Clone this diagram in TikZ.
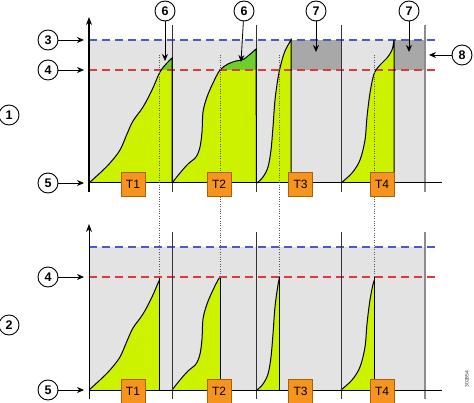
\documentclass[tikz,border=0pt]{standalone}
\usepackage{fontspec}
\setmainfont{Liberation Sans}
\usetikzlibrary{arrows.meta}
\definecolor{bggray}{HTML}{E3E3E3}
\definecolor{dkgray}{HTML}{A8A8A8}
\definecolor{ygreen}{HTML}{CCF200}
\definecolor{dgreen}{HTML}{6CCF2A}
\definecolor{bluedash}{HTML}{4A5ACC}
\definecolor{reddash}{HTML}{DD3B3B}
\definecolor{torange}{HTML}{F7941D}
\definecolor{tborder}{HTML}{A8600F}
\tikzset{
  crvA/.style={insert path={plot[smooth,tension=0.55] coordinates {(89,183) (100,173) (110,163) (120,150) (127,134) (133,121) (143,107) (152,90) (160,72) (167,63) (172,58)}}},
  crvB/.style={insert path={plot[smooth,tension=0.55] coordinates {(172,183) (180,173) (188,164) (196,157) (200,147) (202,132) (203,112) (207,97) (213,83) (220,70) (228,64) (236,61) (244,59) (256,49)}}},
  crvC/.style={insert path={plot[smooth,tension=0.55] coordinates {(257,183) (263,177) (268,167) (271,150) (273,127) (275,100) (278,78) (281,64) (285,51) (291,40)}}},
  crvD/.style={insert path={plot[smooth,tension=0.55] coordinates {(341,183) (352,173) (360,160) (365,140) (367,117) (370,93) (374,74) (380,65) (387,58) (392,50) (394,40)}}},
  circ/.style={circle,draw=black,line width=0.9pt,fill=white,minimum size=20pt,inner sep=0pt,font=\bfseries\fontsize{12.5}{12.5}\selectfont},
  tbox/.style={draw=tborder,fill=torange,line width=0.7pt,minimum width=24pt,minimum height=24pt,inner sep=0pt,font=\fontsize{12}{12}\selectfont},
  pointer/.style={-{Stealth[length=7pt,width=6pt]},line width=0.8pt},
  crvline/.style={line width=1pt,black},
  sep/.style={line width=0.8pt,black!80},
  dotline/.style={line width=0.8pt,black!65,dash pattern=on 1pt off 1.4pt},
  bdash/.style={bluedash,line width=1.1pt,dash pattern=on 8pt off 5pt},
  rdash/.style={reddash,line width=1.1pt,dash pattern=on 8pt off 5pt},
}
\begin{document}
\begin{tikzpicture}[x=1pt,y=-1pt]
\useasboundingbox (0,0) rectangle (474,403);
% ---------- panel backgrounds ----------
\foreach \s in {0,207}{
  \begin{scope}[shift={(0,\s)}]
    \fill[bggray] (89,40) rectangle (425,183);
  \end{scope}
}
\fill[dkgray] (291,40) rectangle (341,70);
\fill[dkgray] (394,40) rectangle (425,70);
% ---------- top curves ----------
\fill[ygreen, crvA] -- (172,183) -- cycle;
\fill[ygreen, crvB] -- (256,183) -- cycle;
\fill[ygreen, crvC] -- (291,183) -- cycle;
\fill[ygreen, crvD] -- (394,183) -- cycle;
\begin{scope}
  \clip (80,0) rectangle (260,70);
  \fill[dgreen, crvA] -- (172,183) -- cycle;
  \fill[dgreen, crvB] -- (256,183) -- cycle;
\end{scope}
% ---------- bottom curves ----------
\begin{scope}[shift={(0,207)}]
  \begin{scope}\clip (80,0) rectangle (159,190);
    \fill[ygreen, crvA] -- (172,183) -- cycle; \draw[crvline, crvA]; \end{scope}
  \begin{scope}\clip (165,0) rectangle (220,190);
    \fill[ygreen, crvB] -- (256,183) -- cycle; \draw[crvline, crvB]; \end{scope}
  \begin{scope}\clip (250,0) rectangle (279,190);
    \fill[ygreen, crvC] -- (291,183) -- cycle; \draw[crvline, crvC]; \end{scope}
  \begin{scope}\clip (335,0) rectangle (374,190);
    \fill[ygreen, crvD] -- (394,183) -- cycle; \draw[crvline, crvD]; \end{scope}
  \draw[crvline] (159,70) -- (159,183);
  \draw[crvline] (220,70) -- (220,183);
  \draw[crvline] (279,70) -- (279,183);
  \draw[crvline] (374,70) -- (374,183);
\end{scope}
% ---------- dashed levels, separators, axes ----------
\foreach \s/\w in {0/1.2pt,207/1pt}{
  \begin{scope}[shift={(0,\s)}]
    \draw[bdash] (89,40) -- (439,40);
    \draw[rdash] (89,70) -- (439,70);
    \draw[sep] (172,25) -- (172,192);
    \draw[sep] (256.5,25) -- (256.5,192);
    \draw[sep] (341,25) -- (341,192);
    \draw[line width=1.4pt,black!45] (425,25) -- (425,192);
    \draw[line width=1pt] (89,183) -- (442,183);
    \draw[-{Stealth[length=8pt,width=6pt]},line width=\w] (89,192) -- (89,17);
  \end{scope}
}
% ---------- top curve outlines ----------
\draw[crvline, crvA] -- (172,183);
\draw[crvline, crvB] -- (256.5,183);
\draw[crvline, crvC] -- (291,183);
\draw[crvline, crvD] -- (394,183);
% ---------- dotted guides ----------
\draw[dotline] (159,55) -- (159,277);
\draw[dotline] (220,55) -- (220,277);
\draw[dotline] (279,55) -- (279,277);
\draw[dotline] (374,55) -- (374,277);
% ---------- T boxes ----------
\foreach \s/\r in {0/a,207/b}{
  \begin{scope}[shift={(0,\s)}]
    \node[tbox] (t1\r) at (133,184.5) {T1};
    \node[tbox] (t2\r) at (219,184.5) {T2};
    \node[tbox] (t3\r) at (300.5,184.5) {T3};
    \node[tbox] (t4\r) at (382,184.5) {T4};
  \end{scope}
}
% ---------- callouts ----------
\node[circ] (c1) at (9,115) {1};
\node[circ] (c2) at (9,325) {2};
\node[circ] (c3) at (48,40) {3};
\node[circ] (c4) at (48,70) {4};
\node[circ] (c5) at (48,183) {5};
\node[circ] (c4b) at (48,277) {4};
\node[circ] (c5b) at (48,390) {5};
\node[circ] (c6a) at (165,11) {6};
\node[circ] (c6b) at (244,11) {6};
\node[circ] (c7a) at (316,11) {7};
\node[circ] (c7b) at (409,11) {7};
\node[circ] (c8) at (462,55) {8};
\coordinate (p3) at (84,40);
\coordinate (p4) at (84,70);
\coordinate (p5) at (84,183);
\coordinate (p4b) at (84,277);
\coordinate (p5b) at (84,390);
\coordinate (p6a) at (165,61);
\coordinate (p6b) at (241,62);
\coordinate (p7a) at (316,52);
\coordinate (p7b) at (409,52);
\coordinate (p8) at (429,55);
\draw[pointer] (c3) -- (p3);
\draw[pointer] (c4) -- (p4);
\draw[pointer] (c5) -- (p5);
\draw[pointer] (c4b) -- (p4b);
\draw[pointer] (c5b) -- (p5b);
\draw[pointer] (c6a) -- (p6a);
\draw[pointer] (c6b) -- (p6b);
\draw[pointer] (c7a) -- (p7a);
\draw[pointer] (c7b) -- (p7b);
\draw[pointer] (c8) -- (p8);
\node[rotate=90,font=\fontsize{5}{5}\selectfont,black!80] (code) at (467,379) {302854};
\end{tikzpicture}
\end{document}
